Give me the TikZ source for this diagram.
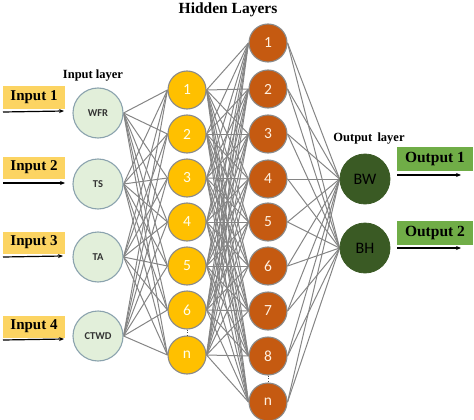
\documentclass[tikz,border=0pt]{standalone}
\usepackage{fontspec}
\setmainfont{Liberation Serif}
\newfontfamily\carl{Carlito}
\usetikzlibrary{arrows.meta,backgrounds}
\definecolor{inbox}{HTML}{FCD462}
\definecolor{incirc}{HTML}{E2EFDA}
\definecolor{incircb}{HTML}{8BA3AE}
\definecolor{hidA}{HTML}{FFC000}
\definecolor{hidB}{HTML}{C55A11}
\definecolor{outcirc}{HTML}{3A5A24}
\definecolor{outbox}{HTML}{70AD47}
\definecolor{conn}{HTML}{858585}
\definecolor{ringc}{HTML}{8A8A8A}
\tikzset{
  inlabel/.style={fill=inbox,minimum width=62pt,minimum height=22pt,inner sep=0pt,font=\bfseries\fontsize{15}{18}\selectfont},
  outlabel/.style={fill=outbox,minimum width=76pt,minimum height=24pt,inner sep=0pt,font=\bfseries\fontsize{15.5}{18}\selectfont},
  innode/.style={circle,draw=incircb,line width=1.1pt,fill=incirc,minimum size=50pt,inner sep=0pt,font=\carl\bfseries\fontsize{10.5}{12}\selectfont,text=black!80},
  hidnodeA/.style={circle,draw=ringc,line width=1.1pt,fill=hidA,minimum size=38pt,inner sep=0pt,font=\carl\fontsize{15.5}{17}\selectfont,text=white!92!yellow},
  hidnodeB/.style={circle,draw=ringc,line width=1.1pt,fill=hidB,minimum size=38pt,inner sep=0pt,font=\carl\fontsize{15.5}{17}\selectfont,text=white!88!orange},
  outnode/.style={circle,draw=outcirc,line width=0.8pt,fill=outcirc,minimum size=50pt,inner sep=0pt,font=\carl\fontsize{16}{18}\selectfont,text=black},
  title/.style={font=\bfseries\fontsize{15.5}{18}\selectfont},
  subtitle/.style={font=\bfseries\fontsize{12.5}{14}\selectfont},
  link/.style={draw=conn,line width=1pt},
  feed/.style={draw=black,line width=1.2pt,-{Stealth[length=5pt,width=4pt]}},
  gapdots/.style={draw=black!70,line width=0.9pt,dotted}
}
\begin{document}
\begin{tikzpicture}[x=1pt,y=-1pt]
\useasboundingbox (0,0) rectangle (474,420);
% titles
\node[title] (tHidden) at (228,10) {Hidden Layers};
\node[subtitle] (tIn) at (93,76) {Input layer};
\node[subtitle] (tOut) at (369,139) {Output\, layer};
% input labels
\node[inlabel] (L1) at (34,97.5) {Input 1};
\node[inlabel] (L2) at (34,167.5) {Input 2};
\node[inlabel] (L3) at (34,242.5) {Input 3};
\node[inlabel] (L4) at (34,326.5) {Input 4};
% input arrows
\coordinate (a1s) at (3,112); \coordinate (a1e) at (64,111);
\coordinate (a2s) at (3,183); \coordinate (a2e) at (65,183);
\coordinate (a3s) at (3,257); \coordinate (a3e) at (63,256);
\coordinate (a4s) at (3,340); \coordinate (a4e) at (64,339);
\draw[feed] (a1s) -- (a1e);
\draw[feed] (a2s) -- (a2e);
\draw[feed] (a3s) -- (a3e);
\draw[feed] (a4s) -- (a4e);
% input nodes
\node[innode] (i1) at (98,113) {WFR};
\node[innode] (i2) at (98,184) {TS};
\node[innode] (i3) at (98,257) {TA};
\node[innode] (i4) at (98,336) {CTWD};
% hidden layer 1
\foreach \n/\y/\t in {1/90/1,2/134/2,3/178/3,4/222/4,5/266/5,6/310/6,7/355/n}
  \node[hidnodeA] (h\n) at (187,\y) {\t};
% hidden layer 2
\foreach \n/\y/\t in {1/43/1,2/89/2,3/134/3,4/179/4,5/222/5,6/266/6,7/311/7,8/356/8,9/402/n}
  \node[hidnodeB] (g\n) at (268,\y) {\t};
% output nodes
\node[outnode] (o1) at (365,179) {BW};
\node[outnode] (o2) at (365,248) {BH};
% output labels
\node[outlabel] (R1) at (435,159) {Output 1};
\node[outlabel] (R2) at (435,233) {Output 2};
\coordinate (b1s) at (397,175); \coordinate (b1e) at (461,175);
\coordinate (b2s) at (397,248); \coordinate (b2e) at (461,248);
\draw[feed] (b1s) -- (b1e);
\draw[feed] (b2s) -- (b2e);
% dotted gaps
\draw[gapdots] (h6.south) -- (h7.north);
\draw[gapdots] (g8.south) -- (g9.north);
% connections
\begin{pgfonlayer}{background}
\foreach \a in {1,...,4}
  \foreach \b in {1,...,7}
    \draw[link] (i\a.east) -- (h\b.west);
\foreach \a in {1,...,7}
  \foreach \b in {1,...,9}
    \draw[link] (h\a.east) -- (g\b.west);
\foreach \a in {1,...,9}
  \foreach \b in {1,2}
    \draw[link] (g\a.east) -- (o\b.west);
\end{pgfonlayer}
\end{tikzpicture}
\end{document}
